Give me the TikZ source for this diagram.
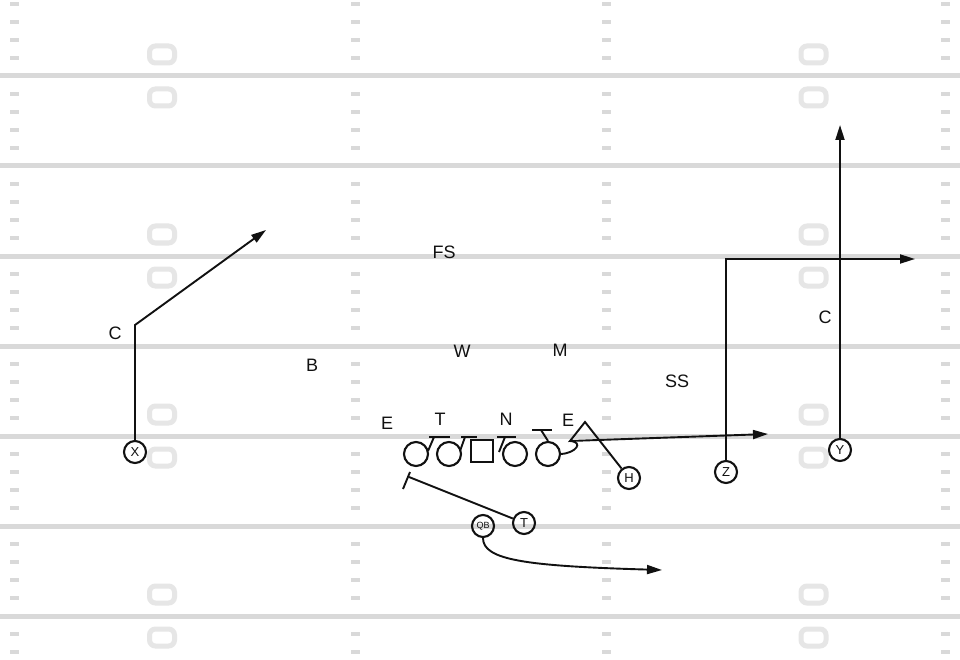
\documentclass[tikz,border=0pt]{standalone}
\usepackage{fontspec}
\setmainfont{Liberation Sans}
\usetikzlibrary{arrows.meta}
\definecolor{fieldgray}{HTML}{D9D9D9}
\definecolor{numgray}{HTML}{E6E6E6}
\definecolor{ink}{HTML}{111111}
\tikzset{
  yardline/.style={draw=fieldgray, line width=5pt},
  hashmark/.style={fill=fieldgray},
  numbox/.style={draw=numgray, line width=5pt, rounded corners=6pt},
  player/.style={circle, draw=ink, line width=2.1pt, minimum size=22pt, inner sep=0pt,
    font=\fontsize{13}{13}\selectfont, text=ink},
  lineman/.style={circle, draw=ink, line width=2.1pt, minimum size=24pt, inner sep=0pt},
  snapbox/.style={rectangle, draw=ink, line width=2.1pt, minimum size=22pt, inner sep=0pt},
  deflabel/.style={font=\fontsize{18}{18}\selectfont, text=ink, inner sep=0pt},
  route/.style={draw=ink, line width=1.9pt, -{Triangle[length=15pt,width=9pt]}},
  blockline/.style={draw=ink, line width=1.9pt},
}
\begin{document}
\begin{tikzpicture}[x=1pt,y=-1pt]
\useasboundingbox (0,0) rectangle (960,660);
\clip (0,0) rectangle (960,660);
\fill[white] (0,0) rectangle (960,660);
% yard lines
\foreach \yl in {76,166,256,346,436,526,616}
  \draw[yardline] (0,\yl) -- (960,\yl);
% hash marks
\foreach \m in {-1,...,6}
  \foreach \j in {1,2,3,4}
    \foreach \cx in {14.5,355,606.5,945.5}
      \fill[hashmark] ({\cx-4.5},{76+90*\m+18*\j-2}) rectangle ({\cx+4.5},{76+90*\m+18*\j+2});
% yard numbers (stylised zeros)
\foreach \yl in {76,256,436,616}
  \foreach \cx in {162,813.5}{
    \draw[numbox] ({\cx-12.5},{\yl-30}) rectangle ({\cx+12.5},{\yl-13});
    \draw[numbox] ({\cx-12.5},{\yl+13}) rectangle ({\cx+12.5},{\yl+30});
  }
% offense
\node[player] (X) at (135,452) {X};
\node[player] (Y) at (840,450) {Y};
\node[player] (Z) at (726,472) {Z};
\node[player] (H) at (629,478) {H};
\node[player] (QB) at (483,526) {\fontsize{9}{9}\selectfont QB};
\node[player] (T) at (524,523) {T};
\node[lineman] (LT) at (416,454) {};
\node[lineman] (LG) at (449,454) {};
\node[snapbox] (OC) at (482,451) {};
\node[lineman] (RG) at (515,454) {};
\node[lineman] (RT) at (548,454) {};
% defense labels
\node[deflabel] (FS) at (444,252) {FS};
\node[deflabel] (W) at (462,351) {W};
\node[deflabel] (M) at (560,350) {M};
\node[deflabel] (B) at (312,365) {B};
\node[deflabel] (SS) at (677,381) {SS};
\node[deflabel] (E1) at (387,423) {E};
\node[deflabel] (T1) at (440,419) {T};
\node[deflabel] (N1) at (506,419) {N};
\node[deflabel] (E2) at (568,420) {E};
\node[deflabel] (C1) at (115,333) {C};
\node[deflabel] (C2) at (825,317) {C};
% route points
\coordinate (xb) at (135,325);
\coordinate (xe) at (266,230);
\coordinate (ye) at (840,125);
\coordinate (zb) at (726,259);
\coordinate (ze) at (915,259);
\coordinate (ha) at (585,422);
\coordinate (hb) at (570,441);
\coordinate (he) at (768,434);
\coordinate (qe) at (662,570);
\coordinate (tb) at (409,477);
\coordinate (tc1) at (403,489);
\coordinate (tc2) at (410,472);
% routes
\draw[route] (X) -- (xb) -- (xe);
\draw[route] (Y) -- (ye);
\draw[route] (Z) -- (zb) -- (ze);
\draw[route] (H) -- (ha) -- (hb) -- (he);
\draw[route] (QB.south) .. controls (483,560) and (525,566) .. (qe);
\draw[blockline] (RT.east) .. controls (576,453) and (584,442) .. (hb);
\draw[blockline] (T) -- (tb);
\draw[blockline] (tc1) -- (tc2);
% line blocks
\coordinate (b1s) at (428,451);
\coordinate (b1t) at (434,437);
\draw[blockline] (b1s) -- (b1t);
\draw[blockline] (429,437) -- (450,437);
\coordinate (b2s) at (460,451);
\coordinate (b2t) at (465,437);
\draw[blockline] (b2s) -- (b2t);
\draw[blockline] (461,437) -- (477,437);
\coordinate (b3s) at (499,452);
\coordinate (b3t) at (505,437);
\draw[blockline] (b3s) -- (b3t);
\draw[blockline] (497,437) -- (516,437);
\coordinate (b4s) at (RT.north);
\coordinate (b4t) at (541,430);
\draw[blockline] (b4s) -- (b4t);
\draw[blockline] (532,430) -- (552,430);
\end{tikzpicture}
\end{document}
